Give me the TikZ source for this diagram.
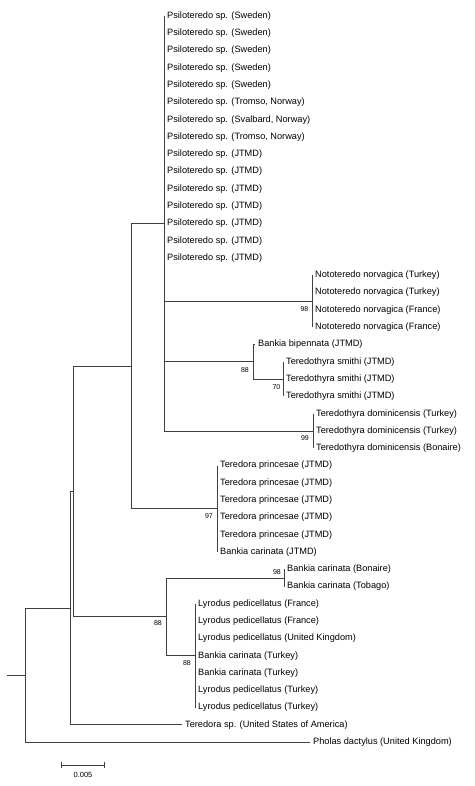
\documentclass[tikz,border=0pt]{standalone}
\usepackage{fontspec}
\setmainfont{Liberation Sans}
\begin{document}
\begin{tikzpicture}[x=1pt,y=-1pt,
  branch/.style={draw=black!75, line width=0.85pt},
  leaf/.style={anchor=west, inner xsep=3pt, inner ysep=0pt, font=\fontsize{9.2}{10}\selectfont, text=black},
  boot/.style={anchor=east, inner sep=0pt, font=\fontsize{7}{8}\selectfont, text=black}]
\useasboundingbox (0,0) rectangle (474,786);
% internal nodes
\coordinate (rs) at (7,675.2);
\coordinate (root) at (25,675.2);
\coordinate (A) at (70,608.2);
\coordinate (B) at (73,491.5);
\coordinate (C) at (131,366.1);
\coordinate (E) at (164,223.5);
\coordinate (Noto) at (312,301.3);
\coordinate (Bk) at (253,361.8);
\coordinate (Sm) at (283,379.1);
\coordinate (Dom) at (313,431.0);
\coordinate (F) at (217,508.75);
\coordinate (D) at (166,616.85);
\coordinate (BT) at (284,577.95);
\coordinate (Ly) at (195,655.75);
% leaves
\node[leaf] (l1) at (164,16.0) {Psiloteredo sp. (Sweden)};
\node[leaf] (l2) at (164,33.3) {Psiloteredo sp. (Sweden)};
\node[leaf] (l3) at (164,50.6) {Psiloteredo sp. (Sweden)};
\node[leaf] (l4) at (164,67.9) {Psiloteredo sp. (Sweden)};
\node[leaf] (l5) at (164,85.2) {Psiloteredo sp. (Sweden)};
\node[leaf] (l6) at (164,102.5) {Psiloteredo sp. (Tromso, Norway)};
\node[leaf] (l7) at (164,119.7) {Psiloteredo sp. (Svalbard, Norway)};
\node[leaf] (l8) at (164,137.0) {Psiloteredo sp. (Tromso, Norway)};
\node[leaf] (l9) at (164,154.3) {Psiloteredo sp. (JTMD)};
\node[leaf] (l10) at (164,171.6) {Psiloteredo sp. (JTMD)};
\node[leaf] (l11) at (164,188.9) {Psiloteredo sp. (JTMD)};
\node[leaf] (l12) at (164,206.2) {Psiloteredo sp. (JTMD)};
\node[leaf] (l13) at (164,223.5) {Psiloteredo sp. (JTMD)};
\node[leaf] (l14) at (164,240.8) {Psiloteredo sp. (JTMD)};
\node[leaf] (l15) at (164,258.1) {Psiloteredo sp. (JTMD)};
\node[leaf] (l16) at (312,275.4) {Nototeredo norvagica (Turkey)};
\node[leaf] (l17) at (312,292.6) {Nototeredo norvagica (Turkey)};
\node[leaf] (l18) at (312,309.9) {Nototeredo norvagica (France)};
\node[leaf] (l19) at (312,327.2) {Nototeredo norvagica (France)};
\node[leaf] (l20) at (255,344.5) {Bankia bipennata (JTMD)};
\node[leaf] (l21) at (283,361.8) {Teredothyra smithi (JTMD)};
\node[leaf] (l22) at (283,379.1) {Teredothyra smithi (JTMD)};
\node[leaf] (l23) at (283,396.4) {Teredothyra smithi (JTMD)};
\node[leaf] (l24) at (313,413.7) {Teredothyra dominicensis (Turkey)};
\node[leaf] (l25) at (313,431.0) {Teredothyra dominicensis (Turkey)};
\node[leaf] (l26) at (313,448.3) {Teredothyra dominicensis (Bonaire)};
\node[leaf] (l27) at (217,465.5) {Teredora princesae (JTMD)};
\node[leaf] (l28) at (217,482.8) {Teredora princesae (JTMD)};
\node[leaf] (l29) at (217,500.1) {Teredora princesae (JTMD)};
\node[leaf] (l30) at (217,517.4) {Teredora princesae (JTMD)};
\node[leaf] (l31) at (217,534.7) {Teredora princesae (JTMD)};
\node[leaf] (l32) at (217,552.0) {Bankia carinata (JTMD)};
\node[leaf] (l33) at (284,569.3) {Bankia carinata (Bonaire)};
\node[leaf] (l34) at (284,586.6) {Bankia carinata (Tobago)};
\node[leaf] (l35) at (195,603.9) {Lyrodus pedicellatus (France)};
\node[leaf] (l36) at (195,621.2) {Lyrodus pedicellatus (France)};
\node[leaf] (l37) at (195,638.4) {Lyrodus pedicellatus (United Kingdom)};
\node[leaf] (l38) at (195,655.7) {Bankia carinata (Turkey)};
\node[leaf] (l39) at (195,673.0) {Bankia carinata (Turkey)};
\node[leaf] (l40) at (195,690.3) {Lyrodus pedicellatus (Turkey)};
\node[leaf] (l41) at (195,707.6) {Lyrodus pedicellatus (Turkey)};
\node[leaf] (l42) at (182,724.9) {Teredora sp. (United States of America)};
\node[leaf] (l43) at (310,742.2) {Pholas dactylus (United Kingdom)};
% branches
\draw[branch] (rs) -- (root);
\draw[branch] (root) |- (A);
\draw[branch] (root) |- (l43.west);
\draw[branch] (A) |- (B);
\draw[branch] (A) |- (l42.west);
\draw[branch] (B) |- (C);
\draw[branch] (B) |- (D);
\draw[branch] (C) |- (E);
\draw[branch] (C) |- (F);
\draw[branch] (E) |- (Noto);
\draw[branch] (E) |- (Bk);
\draw[branch] (E) |- (Dom);
\foreach \i in {1,...,15} \draw[branch] (E) |- (l\i.west);
\foreach \i in {16,...,19} \draw[branch] (Noto) |- (l\i.west);
\draw[branch] (Bk) |- (l20.west);
\draw[branch] (Bk) |- (Sm);
\foreach \i in {21,...,23} \draw[branch] (Sm) |- (l\i.west);
\foreach \i in {24,...,26} \draw[branch] (Dom) |- (l\i.west);
\foreach \i in {27,...,32} \draw[branch] (F) |- (l\i.west);
\draw[branch] (D) |- (BT);
\draw[branch] (D) |- (Ly);
\foreach \i in {33,34} \draw[branch] (BT) |- (l\i.west);
\foreach \i in {35,...,41} \draw[branch] (Ly) |- (l\i.west);
% bootstrap values
\node[boot] (b1) at (308.5,309.3) {98};
\node[boot] (b2) at (249,369.8) {88};
\node[boot] (b3) at (280.5,387.1) {70};
\node[boot] (b4) at (309,438.5) {99};
\node[boot] (b5) at (213,516.5) {97};
\node[boot] (b6) at (162,623.5) {88};
\node[boot] (b7) at (281,572) {98};
\node[boot] (b8) at (191,663) {88};
% scale bar
\coordinate (s1) at (61,765);
\coordinate (s2) at (104,765);
\draw[branch] (s1) -- (s2);
\draw[branch] ([yshift=3pt]s1) -- ([yshift=-3pt]s1);
\draw[branch] ([yshift=3pt]s2) -- ([yshift=-3pt]s2);
\node[font=\fontsize{7.5}{8}\selectfont, text=black] (sl) at (83,775) {0.005};
\end{tikzpicture}
\end{document}
